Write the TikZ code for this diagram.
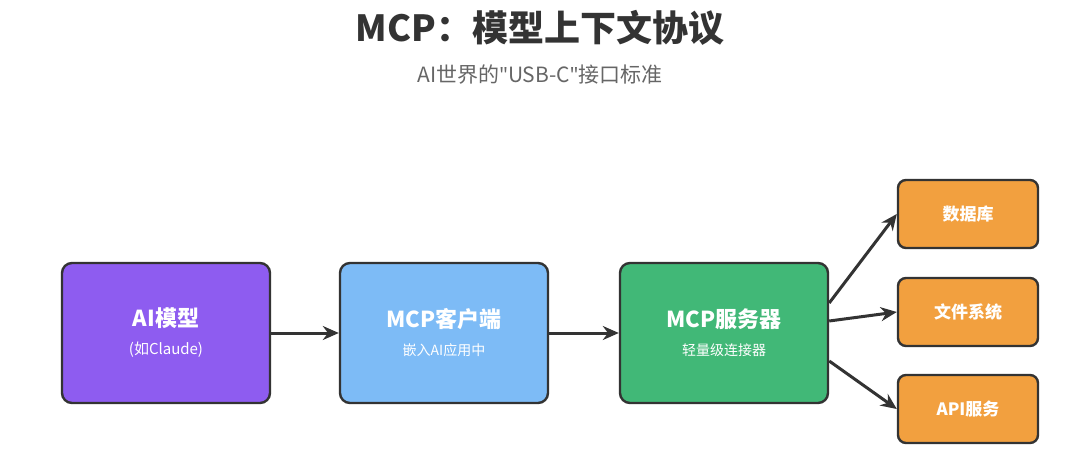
\documentclass[tikz,border=0pt]{standalone}
\usepackage{fontspec}
\setmainfont{Noto Sans CJK SC}
\newfontfamily\latinf{Noto Sans}
\usetikzlibrary{arrows.meta,positioning}
\definecolor{modelc}{HTML}{8E5CF0}
\definecolor{clientc}{HTML}{7DBBF6}
\definecolor{serverc}{HTML}{41B877}
\definecolor{sourcec}{HTML}{F2A03F}
\definecolor{edgec}{HTML}{333333}
\begin{document}
\begin{tikzpicture}[x=0.5pt, y=-0.5pt, >=Stealth,
	mainbox/.style={draw=edgec, line width=1.2pt, rounded corners=5pt, minimum width=104pt, minimum height=70pt, align=center, inner sep=0pt},
	srcbox/.style={draw=edgec, line width=1.2pt, rounded corners=4pt, fill=sourcec, minimum width=70pt, minimum height=34pt, font=\bfseries\fontsize{8.5}{10}\selectfont, text=white},
	link/.style={draw=edgec, line width=1.5pt, -{Stealth[length=8pt, width=7pt]}}]
	\useasboundingbox [fill=white] (0,0) rectangle (1080,460);
	\node [text=edgec](title) at (540,28) {\bfseries\fontsize{18}{20}\selectfont MCP：模型上下文协议};
	\node (subtitle) at (540,75) {\fontsize{10.5}{12}\selectfont\color{black!60} AI世界的{\latinf "}USB-C{\latinf "}接口标准};
	
	\node [mainbox, fill=modelc, text=white](model) at (166,333) {{\bfseries\fontsize{11}{14}\selectfont AI模型}\\[2pt]{\fontsize{7.5}{9}\selectfont (如Claude)}};
	\node [mainbox, fill=clientc, text=white](client) at (444,333) {{\bfseries\fontsize{11}{14}\selectfont MCP客户端}\\[2pt]{\fontsize{7}{9}\selectfont 嵌入AI应用中}};
	\node [mainbox, fill=serverc, text=white](server) at (724,333) {{\bfseries\fontsize{11}{14}\selectfont MCP服务器}\\[2pt]{\fontsize{7}{9}\selectfont 轻量级连接器}};
	
	\node [srcbox](db) at (968,214) {数据库};
	\node [srcbox](files) at (968,312) {文件系统};
	\node [srcbox](api) at (968,409) {API服务};
	
	\draw [link] (model) -- (client);
	\draw [link] (client) -- (server);
	\draw [link] ([yshift=15pt]server.east) -- (db.west);
	\draw [link] ([yshift=6pt]server.east) -- (files.west);
	\draw [link] ([yshift=-14pt]server.east) -- (api.west);
\end{tikzpicture}
\end{document}
